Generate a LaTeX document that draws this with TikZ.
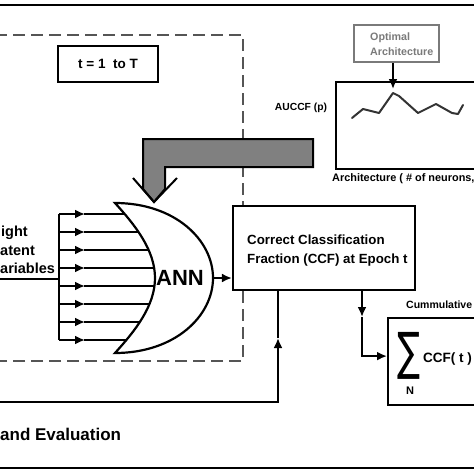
\documentclass[tikz,border=0pt]{standalone}
\usepackage{fontspec}
\setmainfont{Liberation Sans}
\newfontfamily\dejavu{DejaVu Sans}
\usetikzlibrary{arrows.meta}
\newcommand\myfs[2]{\fontsize{#1}{#2}\selectfont}
\definecolor{barcol}{HTML}{808080}
\definecolor{dashcol}{HTML}{555555}
\definecolor{optcol}{HTML}{7A7A7A}
\definecolor{zigcol}{HTML}{333333}
\begin{document}
\begin{tikzpicture}[x=1pt,y=-1pt,
  ln/.style={line width=2.2pt, draw=black},
  arr/.style={ln, -{Latex[length=10pt,width=9pt]}},
  box/.style={draw, line width=2.2pt, fill=white, inner sep=0pt},
  lab/.style={inner sep=0pt}]
\useasboundingbox (0,0) rectangle (474,474);

% frame rules
\coordinate (tl) at (-5,5); \coordinate (tr) at (480,5);
\draw[line width=2.5pt] (tl) -- (tr);
\coordinate (bl) at (-5,468); \coordinate (br) at (480,468);
\draw[line width=2.5pt] (bl) -- (br);

% dashed loop box
\draw[dashcol, line width=2pt, dash pattern=on 12pt off 6pt] (-5,35) -- (243,35) -- (243,361) -- (-5,361);

% loop label
\node[box, minimum width=100pt, minimum height=36pt, font=\bfseries\myfs{13.5}{16}] (tloop) at (108,64) {t = 1\ \ to T};

% gray L arrow
\draw[fill=barcol, line width=2pt, line join=miter] (313,139) -- (143,139) -- (143,189) -- (154,202) -- (165,189) -- (165,167) -- (313,167) -- cycle;
\draw[line width=2pt] (133,178) -- (154,202) -- (177,178);

% inputs
\coordinate (inL) at (-5,279); \coordinate (bus) at (59,279);
\draw[ln] (inL) -- (bus);
\draw[ln] (59,214) -- (59,340);
\foreach \y in {214,232,250,268,286,304,322,340} {
  \draw[arr] (59,\y) -- (85,\y);
  \draw[ln] (84,\y) -- (160,\y);
}
\node[lab, anchor=base west, font=\bfseries\myfs{14.5}{18}] (l1) at (1,236) {ight};
\node[lab, anchor=base west, font=\bfseries\myfs{14.5}{18}] (l2) at (0,255) {atent};
\node[lab, anchor=base west, font=\bfseries\myfs{14.5}{18}] (l3) at (0,273) {ariables};

% ANN shape
\draw[ln, fill=white] (115,203) .. controls (135,225) and (155,250) .. (155,278)
  .. controls (155,306) and (135,331) .. (115,353)
  .. controls (175,353) and (213,316) .. (213,278)
  .. controls (213,240) and (175,203) .. (115,203) -- cycle;
\node[lab, font=\bfseries\myfs{22}{24}] (ann) at (180,278) {ANN};
\coordinate (annout) at (213,278);

% CCF box
\node[box, minimum width=182pt, minimum height=84pt] (ccf) at (324,248) {};
\node[lab, anchor=west, align=left, font=\bfseries\myfs{13.3}{19}] (ccftext) at (247,251) {Correct Classification\\Fraction (CCF) at Epoch t};
\draw[arr] (annout) -- (ccf.west |- annout);

% feedback
\coordinate (fbL) at (-5,402); \coordinate (fbM) at (278,338);
\draw[arr] (fbL) -| (fbM);
\draw[ln] (fbM) -- (fbM |- ccf.south);

% cumulative box
\node[box, anchor=north west, minimum width=110pt, minimum height=87pt] (sum) at (387,317) {};
\node[lab, anchor=west, font=\bfseries\myfs{10.5}{12}] (cumlab) at (406,305) {Cummulative};
\node[lab] (sig) at (409,356) {\resizebox*{23pt}{47pt}{\dejavu ∑}};
\node[lab, anchor=west, font=\bfseries\myfs{13.5}{16}] (ccft) at (423,359) {CCF( t )};
\node[lab, font=\bfseries\myfs{11}{13}] (nlab) at (410,391) {N};
\coordinate (dnM) at (362,317);
\draw[arr] (ccf.south -| dnM) -- (dnM);
\draw[arr] (dnM) |- ([yshift=5.5pt]sum.west);

% plot
\node[box, anchor=north west, minimum width=160pt, minimum height=87pt] (plot) at (335,81) {};
\draw[line width=2pt, zigcol, line join=round, line cap=round] (352,118) -- (363,109) -- (379,113) -- (393,93) -- (399,96) -- (418,113) -- (436,104) -- (452,113) -- (458,114) -- (463,105);
\node[lab, font=\bfseries\myfs{10.3}{12}] (auccf) at (301,108) {AUCCF (p)};
\node[lab, anchor=west, font=\bfseries\myfs{10.9}{13}] (archlab) at (332,179) {Architecture ( \# of neurons,};

% optimal architecture
\node[draw=optcol, line width=2pt, fill=white, minimum width=85pt, minimum height=37pt, inner sep=0pt] (opt) at (396.5,43.5) {};
\node[lab, anchor=west, align=left, text=optcol, font=\bfseries\myfs{10.7}{15}] (opttext) at (370,44) {Optimal\\Architecture};
\coordinate (peak) at (393,89);
\draw[arr] (opt.south -| peak) -- (peak);

% bottom title
\node[lab, anchor=base west, font=\bfseries\myfs{17}{20}] (title) at (0,440) {and Evaluation};
\end{tikzpicture}
\end{document}
